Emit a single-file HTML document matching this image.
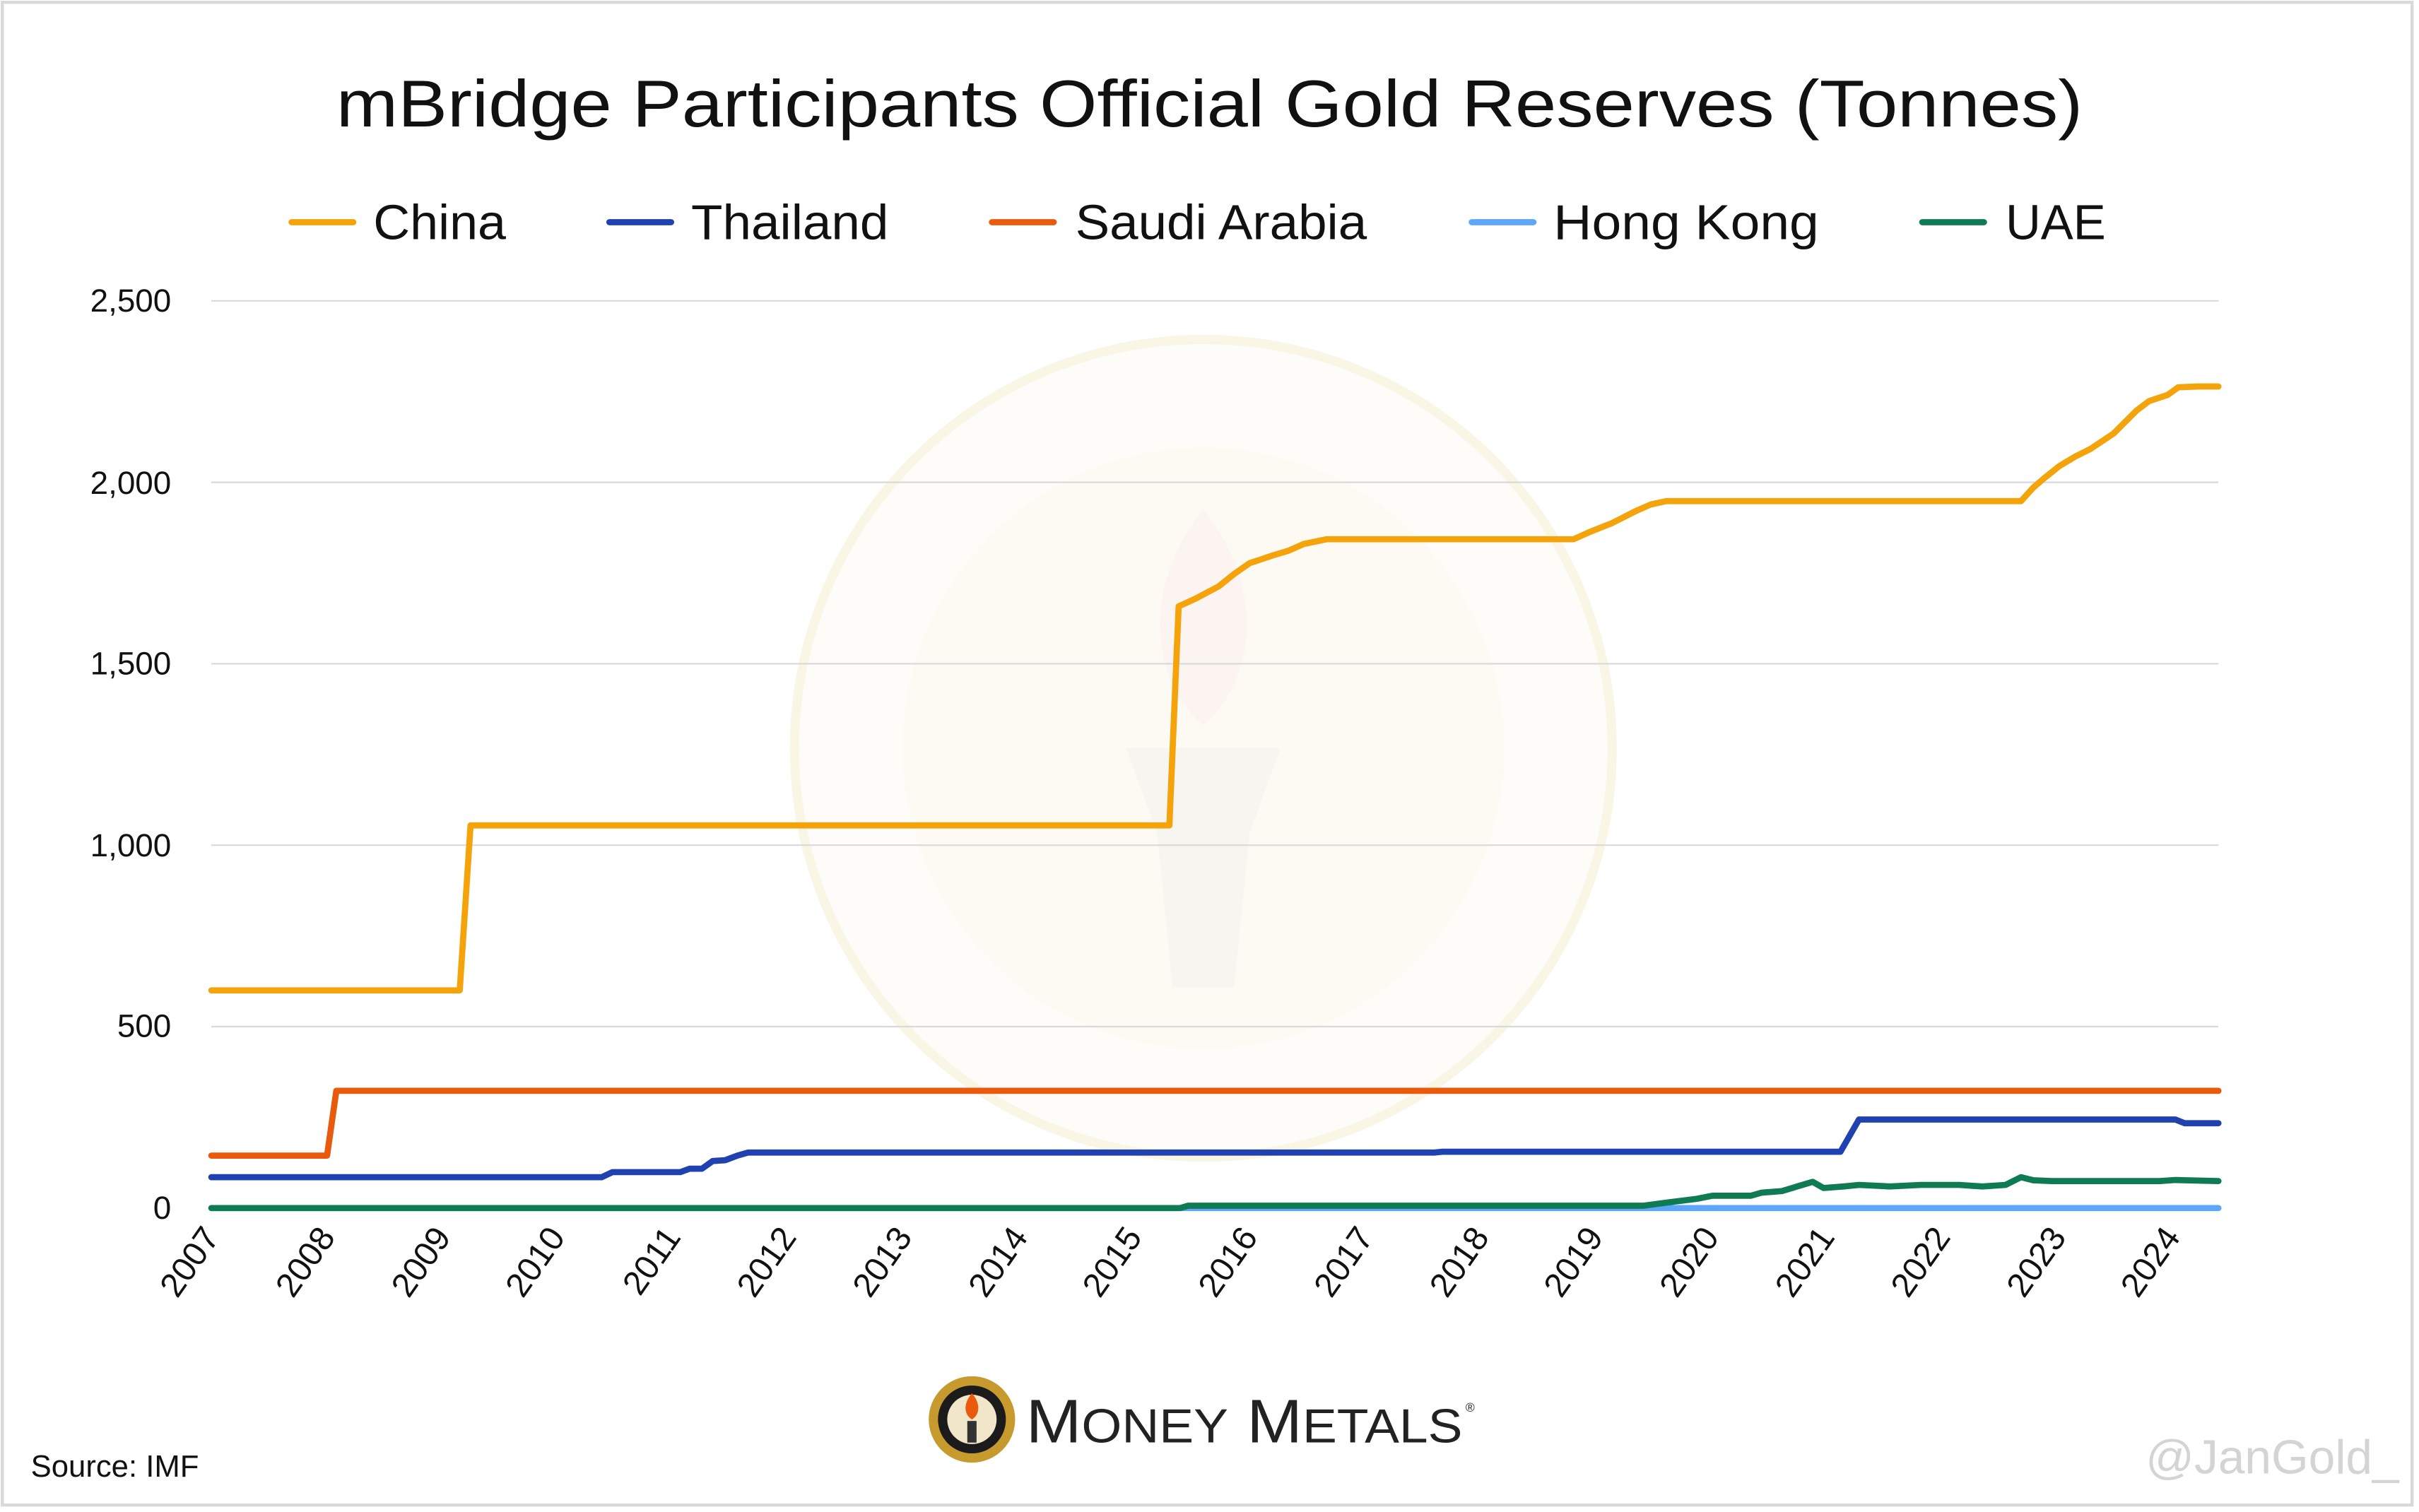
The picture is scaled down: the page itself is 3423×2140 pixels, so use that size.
<!DOCTYPE html>
<html><head><meta charset="utf-8"><style>
html,body{margin:0;padding:0;background:#fff;}
svg{display:block;}
text{font-family:"Liberation Sans",sans-serif;}
</style></head><body>
<svg width="3423" height="2140" viewBox="0 0 1568 980" preserveAspectRatio="none" xmlns="http://www.w3.org/2000/svg">
<rect x="0" y="0" width="1568" height="980" fill="#fff"/>
<rect x="1.5" y="1.5" width="1562" height="974" fill="none" stroke="#d9d9d9" stroke-width="2"/>
<g opacity="0.3">
<circle cx="780" cy="485" r="265" fill="#fcf8ea" stroke="#f0e2ad" stroke-width="6"/>
<circle cx="780" cy="485" r="195" fill="#f7f0d6"/>
<path d="M730 485 L830 485 L810 540 L800 640 L760 640 L750 540 Z" fill="#e8e0cc"/>
<path d="M780 330 C740 380 745 440 780 470 C815 440 820 380 780 330 Z" fill="#f6dcd0"/>
</g>
<text x="218" y="82" font-size="43" textLength="1132" lengthAdjust="spacingAndGlyphs" fill="#111">mBridge Participants Official Gold Reserves (Tonnes)</text>
<g font-size="32" fill="#111" stroke-width="4" stroke-linecap="round">
<line x1="189" y1="144" x2="229" y2="144" stroke="#f4a30a"/><text x="242" y="155" textLength="86" lengthAdjust="spacingAndGlyphs">China</text>
<line x1="395" y1="144" x2="435" y2="144" stroke="#2041b0"/><text x="448" y="155" textLength="128" lengthAdjust="spacingAndGlyphs">Thailand</text>
<line x1="643" y1="144" x2="683" y2="144" stroke="#e95a0c"/><text x="697" y="155" textLength="189" lengthAdjust="spacingAndGlyphs">Saudi Arabia</text>
<line x1="954" y1="144" x2="994" y2="144" stroke="#5ea6f7"/><text x="1007" y="155" textLength="172" lengthAdjust="spacingAndGlyphs">Hong Kong</text>
<line x1="1246" y1="144" x2="1286" y2="144" stroke="#0f7b52"/><text x="1300" y="155" textLength="65" lengthAdjust="spacingAndGlyphs">UAE</text>
</g>
<g stroke="#d9d9d9" stroke-width="1">
<line x1="137" y1="195" x2="1438" y2="195"/>
<line x1="137" y1="312.6" x2="1438" y2="312.6"/>
<line x1="137" y1="430.2" x2="1438" y2="430.2"/>
<line x1="137" y1="547.8" x2="1438" y2="547.8"/>
<line x1="137" y1="665.4" x2="1438" y2="665.4"/>
</g>
<g font-size="21" fill="#111" text-anchor="end">
<text x="111" y="202">2,500</text>
<text x="111" y="320">2,000</text>
<text x="111" y="437">1,500</text>
<text x="111" y="555">1,000</text>
<text x="111" y="672">500</text>
<text x="111" y="790">0</text>
</g>
<g font-size="22" fill="#111" text-anchor="end">
<text transform="translate(143,802) rotate(-55)">2007</text>
<text transform="translate(218,802) rotate(-55)">2008</text>
<text transform="translate(293,802) rotate(-55)">2009</text>
<text transform="translate(367,802) rotate(-55)">2010</text>
<text transform="translate(442,802) rotate(-55)">2011</text>
<text transform="translate(517,802) rotate(-55)">2012</text>
<text transform="translate(592,802) rotate(-55)">2013</text>
<text transform="translate(667,802) rotate(-55)">2014</text>
<text transform="translate(741,802) rotate(-55)">2015</text>
<text transform="translate(816,802) rotate(-55)">2016</text>
<text transform="translate(891,802) rotate(-55)">2017</text>
<text transform="translate(966,802) rotate(-55)">2018</text>
<text transform="translate(1040,802) rotate(-55)">2019</text>
<text transform="translate(1115,802) rotate(-55)">2020</text>
<text transform="translate(1190,802) rotate(-55)">2021</text>
<text transform="translate(1265,802) rotate(-55)">2022</text>
<text transform="translate(1340,802) rotate(-55)">2023</text>
<text transform="translate(1414,802) rotate(-55)">2024</text>
</g>
<g fill="none" stroke-width="4" stroke-linejoin="round" stroke-linecap="round">
<polyline stroke="#5ea6f7" points="137,783 1438,783"/>
<polyline stroke="#0f7b52" points="137,783 765,783 770,781.5 1065,781.5 1080,779.5 1100,777 1110,775 1135,775 1142,773 1155,772 1165,769 1175,766 1182,770 1195,769 1205,768 1225,769 1245,768 1270,768 1285,769 1300,768 1310,763 1318,765 1330,765.5 1400,765.5 1410,764.8 1438,765.5"/>
<polyline stroke="#2041b0" points="137,763 390,763 397,759.7 441,759.7 447,757.5 455,757.5 462,752.5 470,752 478,749 485,747 930,747 935,746.5 1193,746.5 1205,725.6 1410,725.6 1416,728 1438,728"/>
<polyline stroke="#e95a0c" points="137,749 212,749 218,707 1438,707"/>
<polyline stroke="#f4a30a" points="137,641.9 298,641.9 305,535 758,535 764,393 775,388 790,380 800,372 810,365 825,360 835,357 845,352.6 860,349.5 1020,349.5 1030,345 1045,339 1060,331.4 1070,327 1080,324.8 1310,324.8 1318,316 1325,310 1335,302 1345,296 1355,291 1370,281 1385,266 1393,260 1405,256 1412,251 1425,250.5 1438,250.5"/>
</g>
<text x="20" y="957" font-size="20" fill="#111">Source: IMF</text>
<text x="1555" y="955" font-size="31" fill="#d4d4d4" text-anchor="end">@JanGold_</text>
<circle cx="630" cy="920" r="28" fill="#c79a2e"/>
<circle cx="630" cy="920" r="22" fill="#1b1b1b"/>
<circle cx="630" cy="920" r="16" fill="#f1e6c9"/>
<path d="M630 903 C624 910 625 917 630 920 C635 917 636 910 630 903Z" fill="#e95a0c"/>
<rect x="627" y="921" width="6" height="14" fill="#333"/>
<text x="665" y="935" font-size="40" fill="#222" font-family="Liberation Serif, serif" textLength="283" lengthAdjust="spacingAndGlyphs">M<tspan font-size="31">ONEY</tspan> M<tspan font-size="31">ETALS</tspan></text>
<text x="950" y="915" font-size="8" fill="#222">®</text>
</svg>
</body></html>
